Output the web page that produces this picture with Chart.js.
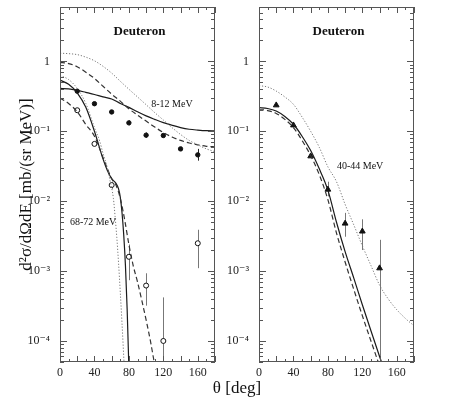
<!DOCTYPE html>
<html>
<head>
<meta charset="utf-8">
<script src="https://cdn.jsdelivr.net/npm/chart.js@4"></script>
<style>
  html, body { margin: 0; padding: 0; background: #fff; }
  #wrap { position: relative; width: 474px; height: 398px; overflow: hidden; }
  canvas { position: absolute; left: 0; top: 0; }
  #xtitle { position: absolute; top: 378px; left: 187px; width: 100px; text-align: center;
            font: 17px "Liberation Serif", serif; color: #111; }
</style>
</head>
<body>
<div id="wrap">
  <canvas id="left" width="474" height="398"></canvas>
  <canvas id="right" width="474" height="398"></canvas>
  <div id="xtitle">θ [deg]</div>
</div>
<script>
// ---- data (angles in deg, cross sections in mb/(sr MeV)) ----

// 8-12 MeV measured points
var ang812 = [20, 40, 60, 80, 100, 120, 140, 160];
var val812 = [0.375, 0.248, 0.189, 0.132, 0.088, 0.087, 0.056, 0.046];
var lo812  = [0.355, 0.236, 0.180, 0.122, 0.081, 0.082, 0.052, 0.038];
var hi812  = [0.395, 0.260, 0.198, 0.143, 0.096, 0.092, 0.060, 0.056];

// 68-72 MeV measured points
var ang6872 = [20, 40, 60, 80, 100, 120, 160];
var val6872 = [0.20, 0.066, 0.017, 0.0016, 0.00062, 0.0001, 0.0025];
var lo6872  = [0.19, 0.062, 0.015, 0.00074, 0.00032, 0.00004, 0.0011];
var hi6872  = [0.21, 0.070, 0.019, 0.0024, 0.00093, 0.00042, 0.0039];

// 40-44 MeV measured points
var ang4044 = [20, 40, 60, 80, 100, 120, 140];
var val4044 = [0.236, 0.122, 0.044, 0.0147, 0.0048, 0.0037, 0.0011];
var lo4044  = [0.225, 0.115, 0.041, 0.0117, 0.0031, 0.0020, 0.00001];
var hi4044  = [0.250, 0.130, 0.047, 0.019, 0.0068, 0.0055, 0.0028];

// calculations, 8-12 MeV
var angC812 = [0, 10, 20, 30, 40, 50, 60, 70, 80, 90, 100, 110, 120, 130, 140, 150, 160, 170, 180];
var solid812  = [0.41, 0.405, 0.385, 0.36, 0.336, 0.31, 0.29, 0.25, 0.22, 0.19, 0.166, 0.148, 0.133, 0.122, 0.113, 0.107, 0.104, 0.102, 0.1016];
var dashed812 = [0.97, 0.93, 0.84, 0.70, 0.57, 0.44, 0.34, 0.27, 0.21, 0.17, 0.14, 0.115, 0.096, 0.083, 0.074, 0.068, 0.064, 0.061, 0.060];
var dotted812 = [1.31, 1.29, 1.25, 1.15, 1.02, 0.85, 0.68, 0.52, 0.40, 0.31, 0.24, 0.185, 0.145, 0.113, 0.090, 0.074, 0.064, 0.056, 0.051];

// calculations, 68-72 MeV
var angS6872   = [0, 10, 20, 30, 40, 50, 55, 60, 65, 68, 70, 72, 74, 76, 78, 80];
var solid6872  = [0.54, 0.47, 0.355, 0.22, 0.10, 0.040, 0.0275, 0.021, 0.018, 0.015, 0.0114, 0.0069, 0.0033, 0.0012, 0.00028, 0.00004];
var angD6872   = [0, 10, 20, 30, 40, 50, 60, 65, 70, 75, 80, 85, 90, 95, 100, 105, 110];
var dashed6872 = [0.30, 0.25, 0.19, 0.125, 0.085, 0.042, 0.021, 0.017, 0.011, 0.0055, 0.0024, 0.0012, 0.0007, 0.00038, 0.0002, 0.0001, 0.000045];
var angT6872   = [0, 10, 20, 30, 40, 46, 50, 55, 58, 62, 64, 66, 68, 70, 72, 74, 76];
var dotted6872 = [0.63, 0.55, 0.41, 0.25, 0.113, 0.073, 0.048, 0.03, 0.02, 0.011, 0.006, 0.003, 0.0013, 0.0005, 0.00018, 0.00006, 0.00002];

// calculations, 40-44 MeV
var angC4044    = [0, 10, 20, 30, 40, 50, 60, 70, 80, 90, 100, 110, 120, 130, 140, 150, 160, 170, 180];
var dotted4044  = [0.45, 0.43, 0.376, 0.31, 0.243, 0.16, 0.10, 0.059, 0.031, 0.019, 0.009, 0.0046, 0.0023, 0.0012, 0.00063, 0.0004, 0.00028, 0.00021, 0.000165];
var angS4044    = [0, 10, 20, 30, 40, 50, 60, 70, 80, 90, 100, 110, 120, 130, 140, 145];
var solid4044   = [0.218, 0.212, 0.195, 0.163, 0.126, 0.085, 0.053, 0.029, 0.0144, 0.005, 0.0019, 0.0008, 0.00033, 0.00014, 0.00006, 0.00004];
var angD4044    = [0, 10, 20, 30, 40, 50, 60, 70, 80, 90, 100, 110, 120, 130, 140];
var dashed4044  = [0.205, 0.198, 0.18, 0.148, 0.113, 0.074, 0.045, 0.024, 0.0105, 0.0035, 0.00135, 0.00055, 0.00023, 0.0001, 0.000044];

// ---- helpers ----
var SERIF = '"Liberation Serif", "DejaVu Serif", serif';

function pts(xs, ys) {
  return xs.map(function (x, i) { return { x: x, y: ys[i] }; });
}

function curve(xs, ys, style) {
  var ds = {
    data: pts(xs, ys), showLine: true, pointRadius: 0, borderWidth: 1.2,
    borderColor: '#1a1a1a', cubicInterpolationMode: 'monotone'
  };
  if (style === 'dashed') { ds.borderDash = [5, 3]; ds.borderColor = '#333'; }
  if (style === 'dotted') { ds.borderDash = [1.2, 1.8]; ds.borderColor = '#777'; ds.borderWidth = 1; }
  return ds;
}

function markers(xs, ys, shape, filled, r) {
  return {
    data: pts(xs, ys), showLine: false, pointStyle: shape, pointRadius: r,
    pointBackgroundColor: filled ? '#111' : '#fff', pointBorderColor: '#111', pointBorderWidth: 1
  };
}

var sup = { '-': '\u207B', '0': '\u2070', '1': '\u00B9', '2': '\u00B2', '3': '\u00B3', '4': '\u2074', '5': '\u2075' };
function decadeLabel(v) {
  var l = Math.log10(v), r = Math.round(l);
  if (Math.abs(l - r) > 1e-6) return '';
  if (r === 0) return '1';
  return '10' + String(r).split('').map(function (c) { return sup[c]; }).join('');
}

// frame, inward ticks, error bars and labels inside the panel
var decor = {
  id: 'decor',
  beforeDatasetsDraw: function (chart, args, opts) {
    var ctx = chart.ctx, a = chart.chartArea, xs = chart.scales.x, ys = chart.scales.y;
    ctx.save();
    ctx.beginPath();
    ctx.rect(a.left, a.top, a.right - a.left, a.bottom - a.top);
    ctx.clip();
    (opts.errors || []).forEach(function (e) {
      ctx.strokeStyle = e.color;
      ctx.lineWidth = 1;
      ctx.beginPath();
      for (var i = 0; i < e.x.length; i++) {
        var px = Math.round(xs.getPixelForValue(e.x[i])) + 0.5;
        ctx.moveTo(px, ys.getPixelForValue(e.lo[i]));
        ctx.lineTo(px, ys.getPixelForValue(e.hi[i]));
      }
      ctx.stroke();
    });
    ctx.restore();
  },
  afterDatasetsDraw: function (chart, args, opts) {
    var ctx = chart.ctx, a = chart.chartArea, xs = chart.scales.x, ys = chart.scales.y;
    ctx.save();
    ctx.strokeStyle = '#555';
    ctx.lineWidth = 1;
    ctx.strokeRect(a.left + 0.5, a.top + 0.5, a.right - a.left - 1, a.bottom - a.top - 1);
    ctx.beginPath();
    for (var d = 0; d <= 180; d += 10) {
      var px = Math.round(xs.getPixelForValue(d)) + 0.5;
      var len = d % 20 === 0 ? 6 : 3;
      ctx.moveTo(px, a.bottom); ctx.lineTo(px, a.bottom - len);
      ctx.moveTo(px, a.top); ctx.lineTo(px, a.top + len);
    }
    for (var e = -5; e <= 1; e++) {
      for (var m = 1; m <= 9; m++) {
        var v = m * Math.pow(10, e);
        if (v < ys.min || v > ys.max) continue;
        var py = Math.round(ys.getPixelForValue(v)) + 0.5;
        var l = m === 1 ? 7 : 4;
        ctx.moveTo(a.left, py); ctx.lineTo(a.left + l, py);
        ctx.moveTo(a.right, py); ctx.lineTo(a.right - l, py);
      }
    }
    ctx.stroke();

    ctx.fillStyle = '#111';
    ctx.textBaseline = 'middle';
    ctx.textAlign = 'center';
    ctx.font = 'bold 13px ' + SERIF;
    ctx.fillText(opts.title, (a.left + a.right) / 2 + 2, a.top + 25);
    ctx.font = '10px ' + SERIF;
    ctx.textAlign = 'left';
    (opts.labels || []).forEach(function (t) {
      ctx.fillText(t.text, xs.getPixelForValue(t.x), ys.getPixelForValue(t.y));
    });
    ctx.restore();
  }
};

function panel(id, datasets, padRight, axisWidth, showTitle, extra) {
  return new Chart(document.getElementById(id), {
    type: 'scatter',
    data: { datasets: datasets },
    plugins: [decor],
    options: {
      responsive: false,
      animation: false,
      devicePixelRatio: 1,
      events: [],
      layout: { padding: { left: 0, right: padRight, top: 7, bottom: 0 } },
      plugins: { legend: { display: false }, tooltip: { enabled: false }, decor: extra },
      scales: {
        x: {
          type: 'linear', min: 0, max: 180,
          grid: { display: false, drawTicks: false }, border: { display: false },
          ticks: {
            stepSize: 40, includeBounds: false, autoSkip: false, maxRotation: 0,
            padding: 4, color: '#222', font: { family: SERIF, size: 12 }
          },
          afterFit: function (s) { s.height = 36; s.paddingLeft = 0; s.paddingRight = 0; }
        },
        y: {
          type: 'logarithmic', min: 5e-5, max: 6,
          grid: { display: false, drawTicks: false }, border: { display: false },
          ticks: {
            autoSkip: false, padding: 10, color: '#222', font: { family: SERIF, size: 12 },
            callback: function (v) { return decadeLabel(v); }
          },
          title: {
            display: showTitle, text: 'd\u00B2\u03C3/d\u03A9dE [mb/(sr MeV)]', color: '#111',
            font: { family: SERIF, size: 17 }, padding: { top: 16, bottom: 0 }
          },
          afterFit: function (s) { s.width = axisWidth; s.paddingTop = 0; s.paddingBottom = 0; }
        }
      }
    }
  });
}

panel('left', [
  curve(angC812, dotted812, 'dotted'),
  curve(angC812, dashed812, 'dashed'),
  curve(angC812, solid812, 'solid'),
  curve(angT6872, dotted6872, 'dotted'),
  curve(angD6872, dashed6872, 'dashed'),
  curve(angS6872, solid6872, 'solid'),
  markers(ang812, val812, 'circle', true, 2.2),
  markers(ang6872, val6872, 'circle', false, 2.5)
], 474 - 215, 60, true, {
  title: 'Deuteron',
  errors: [
    { x: ang812, lo: lo812, hi: hi812, color: '#222' },
    { x: ang6872, lo: lo6872, hi: hi6872, color: '#777' }
  ],
  labels: [
    { text: '8-12 MeV', x: 106, y: 0.245 },
    { text: '68-72 MeV', x: 11.5, y: 0.005 }
  ]
});

panel('right', [
  curve(angC4044, dotted4044, 'dotted'),
  curve(angD4044, dashed4044, 'dashed'),
  curve(angS4044, solid4044, 'solid'),
  markers(ang4044, val4044, 'triangle', true, 3.3)
], 474 - 414, 259, false, {
  title: 'Deuteron',
  errors: [
    { x: ang4044, lo: lo4044, hi: hi4044, color: '#777' }
  ],
  labels: [
    { text: '40-44 MeV', x: 90.5, y: 0.031 }
  ]
});
</script>
</body>
</html>
